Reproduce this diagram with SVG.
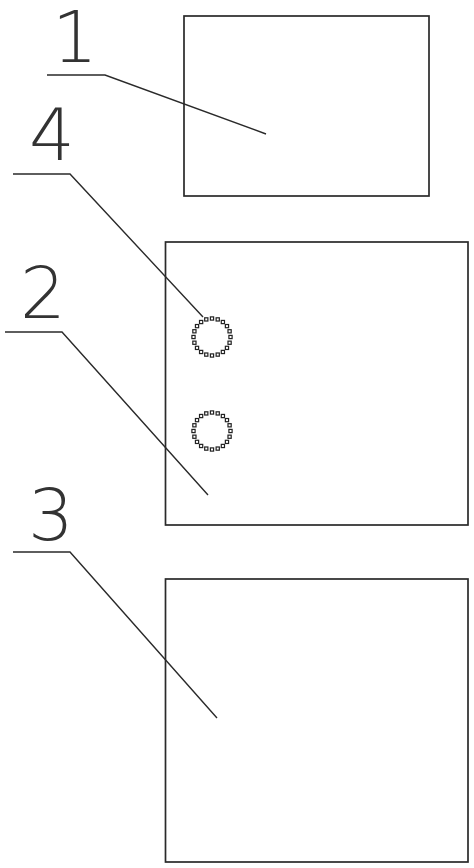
<svg xmlns="http://www.w3.org/2000/svg" width="474" height="868" viewBox="0 0 474 868">
<style>
.box{fill:none;stroke:#2a2a2a;stroke-width:1.7}
.ld{fill:none;stroke:#2a2a2a;stroke-width:1.4}
.num{font-family:"DejaVu Sans","Liberation Sans",sans-serif;font-weight:200;font-size:72px;fill:#333;text-anchor:middle}
.sq{fill:none;stroke:#222;stroke-width:1.2}
</style>
<defs>
<rect id="s" class="sq" x="-1.6" y="-1.6" width="3.2" height="3.2"/>
<g id="ring">
<use href="#s" x="18.5" y="0"/><use href="#s" x="17.59" y="5.72"/><use href="#s" x="14.97" y="10.88"/><use href="#s" x="10.88" y="14.97"/><use href="#s" x="5.72" y="17.59"/>
<use href="#s" x="0" y="18.5"/><use href="#s" x="-5.72" y="17.59"/><use href="#s" x="-10.88" y="14.97"/><use href="#s" x="-14.97" y="10.88"/><use href="#s" x="-17.59" y="5.72"/>
<use href="#s" x="-18.5" y="0"/><use href="#s" x="-17.59" y="-5.72"/><use href="#s" x="-14.97" y="-10.88"/><use href="#s" x="-10.88" y="-14.97"/><use href="#s" x="-5.72" y="-17.59"/>
<use href="#s" x="0" y="-18.5"/><use href="#s" x="5.72" y="-17.59"/><use href="#s" x="10.88" y="-14.97"/><use href="#s" x="14.97" y="-10.88"/><use href="#s" x="17.59" y="-5.72"/>
</g>
</defs>
<rect width="474" height="868" fill="#fff"/>
<g id="part1"><rect class="box" x="184" y="16" width="245" height="180"/></g>
<g id="part2"><rect class="box" x="165.5" y="242" width="302.5" height="283"/></g>
<g id="holes">
<use href="#ring" x="212" y="337"/>
<use href="#ring" x="212" y="431"/>
</g>
<g id="part3"><rect class="box" x="165.5" y="579" width="302.5" height="283"/></g>
<g id="labels">
<text class="num" x="75" y="62">1</text>
<text class="num" x="52" y="160">4</text>
<text class="num" x="43" y="318">2</text>
<text class="num" x="51" y="540">3</text>
</g>
<g id="connectors">
<polyline class="ld" points="47,75 105,75 266,134"/>
<polyline class="ld" points="13,174 70,174 203,317"/>
<polyline class="ld" points="5,332 62,332 208,495"/>
<polyline class="ld" points="13,552 70,552 217,718"/>
</g>
</svg>
